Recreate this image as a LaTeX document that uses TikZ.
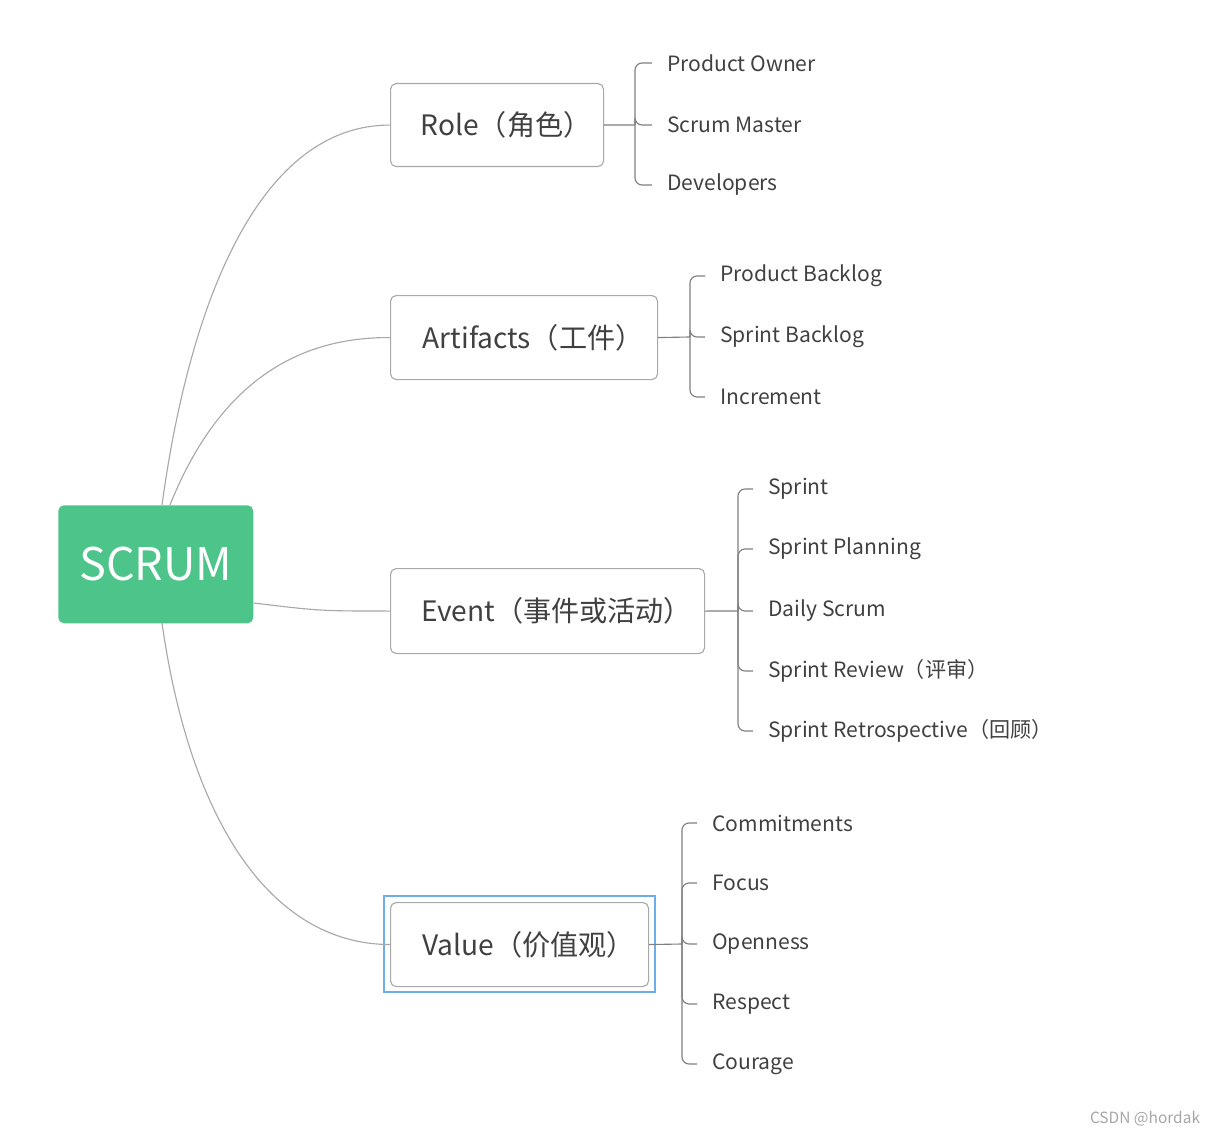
\documentclass[tikz,border=0pt]{standalone}
\usepackage{fontspec}
\setmainfont{Noto Sans CJK SC}
\definecolor{scrumgreen}{HTML}{4DC48A}
\definecolor{txtgray}{HTML}{404040}
\definecolor{linegray}{HTML}{A8A8A8}
\definecolor{selblue}{HTML}{6AAEF0}
\begin{document}
\begin{tikzpicture}[x=0.025cm, y=-0.025cm,
  branch/.style={draw=linegray, rounded corners=4pt, thick, anchor=north west, font=\fontsize{20}{24}\selectfont, text=txtgray, inner xsep=0pt, align=left},
  leaf/.style={anchor=west, inner xsep=0.375cm, font=\fontsize{15}{18}\selectfont, text=txtgray},
  link/.style={draw=linegray, thick},
  brace/.style={draw=gray, thick, rounded corners=5pt}]
\useasboundingbox (0,0) rectangle (1218,1136);

\node[fill=scrumgreen, rounded corners=4pt, minimum width=195*0.025cm, minimum height=118*0.025cm, text=white, font=\fontsize{32}{36}\selectfont, anchor=north west, inner sep=0pt] (scrum) at (58,505) {SCRUM};

\node[branch, minimum width=213*0.025cm, minimum height=83*0.025cm] (role) at (390,83) {\hspace{0.45cm}Role（角色）};
\node[branch, minimum width=267*0.025cm, minimum height=84*0.025cm] (art) at (390,295) {\hspace{0.45cm}Artifacts（工件）};
\node[branch, minimum width=314*0.025cm, minimum height=85*0.025cm] (event) at (390,568) {\hspace{0.45cm}Event（事件或活动）};
\node[branch, minimum width=258*0.025cm, minimum height=84*0.025cm] (value) at (390,902) {\hspace{0.45cm}Value（价值观）};
\draw[selblue, line width=1.5pt] (384,896) rectangle (655,992);

% curves from the root
\draw[link] (162,505) .. controls (190,300) and (260,125) .. (role.west);
\draw[link] (170,505) .. controls (220,380) and (300,337) .. (art.west);
\draw[link] (scrum.east |- 0,603) .. controls (320,611) .. (event.west);
\draw[link] (162,623) .. controls (190,820) and (270,944) .. (value.west);

% leaves
\coordinate (rolehub) at (635,125);
\coordinate (arthub) at (690,337);
\coordinate (eventhub) at (738,611);
\coordinate (valuehub) at (682,944);
\draw[brace] (role.east) -- (rolehub);
\draw[brace] (art.east) -- (arthub);
\draw[brace] (event.east) -- (eventhub);
\draw[brace] (value.east) -- (valuehub);

\foreach \txt/\y [count=\i] in {Product Owner/63, Scrum Master/125, Developers/185}{
  \node[leaf] (r\i) at (652,\y) {\txt};
  \draw[brace] (rolehub) |- (r\i.west);
}
\foreach \txt/\y [count=\i] in {Product Backlog/276, Sprint Backlog/337, Increment/397}{
  \node[leaf] (a\i) at (705,\y) {\txt};
  \draw[brace] (arthub) |- (a\i.west);
}
\foreach \txt/\y [count=\i] in {Sprint/489, Sprint Planning/549, Daily Scrum/611, Sprint Review（评审）/671, Sprint Retrospective（回顾）/731}{
  \node[leaf] (e\i) at (753,\y) {\txt};
  \draw[brace] (eventhub) |- (e\i.west);
}
\foreach \txt/\y [count=\i] in {Commitments/823, Focus/883, Openness/944, Respect/1004, Courage/1064}{
  \node[leaf] (v\i) at (697,\y) {\txt};
  \draw[brace] (valuehub) |- (v\i.west);
}

\node[text=gray!70, font=\fontsize{11}{13}\selectfont, anchor=east] (mark) at (1205,1119) {CSDN @hordak};
\end{tikzpicture}
\end{document}
